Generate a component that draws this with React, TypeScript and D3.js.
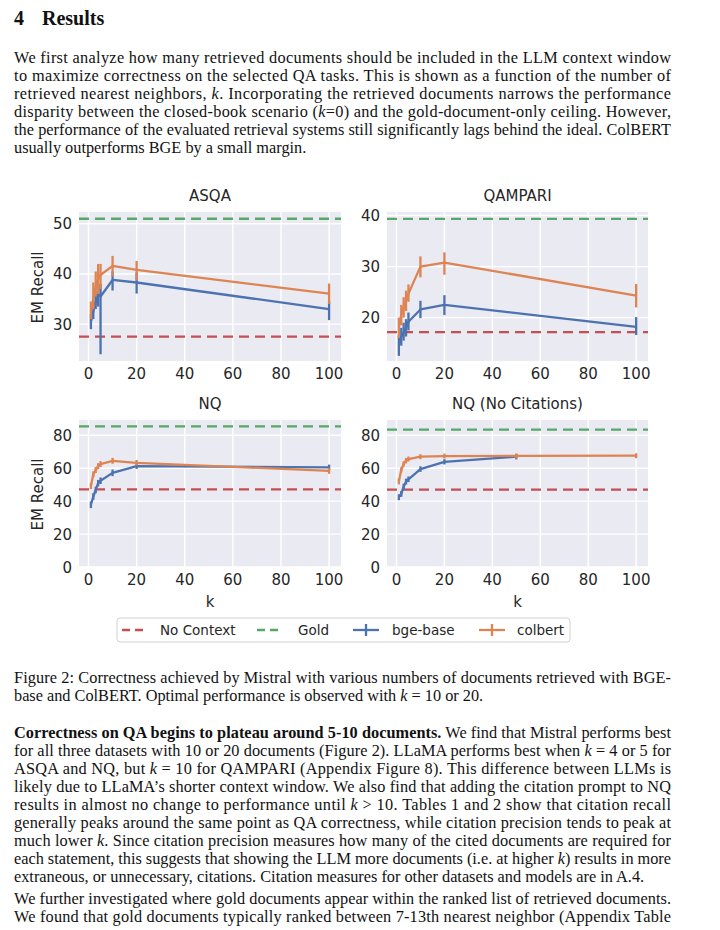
import { useEffect, useRef } from 'react';
import * as d3 from 'd3';

// k values (number of retrieved docs)
const kMain = [1, 2, 3, 4, 5, 10, 20, 100];
const kNoCitBge = [1, 2, 3, 4, 5, 10, 20, 50];
const kNoCitColbert = [1, 2, 3, 4, 5, 10, 20, 50, 100];
const xTicks = [0, 20, 40, 60, 80, 100];

// ASQA
const asqaBge = [30.5, 32.5, 34.5, 36, 35.5, 38.8, 38.3, 33];
const asqaBgeLo = [29, 31, 33, 33.5, 24, 36.7, 36.1, 30.8];
const asqaBgeHi = [32, 34.5, 36.5, 38, 38, 40.5, 40.3, 34.5];
const asqaColbert = [32.5, 35, 37.5, 39, 39.8, 41.6, 40.8, 36.1];
const asqaColbertLo = [31, 33, 35.5, 36, 37, 39.5, 38.7, 34];
const asqaColbertHi = [34.5, 38.3, 40.5, 42, 42, 43.6, 42.6, 38.1];

// QAMPARI
const qampariBge = [14.5, 16.2, 17.2, 18, 19.2, 21.6, 22.5, 18.2];
const qampariBgeLo = [12.5, 14.5, 15.5, 16.3, 17.5, 19.9, 20.5, 16.6];
const qampariBgeHi = [16.5, 18, 19, 19.7, 21, 23.3, 24.4, 20.1];
const qampariColbert = [18, 20.5, 22, 23.3, 24.7, 30, 30.8, 24.3];
const qampariColbertLo = [16, 18.5, 20, 21.3, 23.1, 27.9, 28.4, 22];
const qampariColbertHi = [20, 22.5, 24, 25.3, 26.5, 32, 32.8, 26.6];

// NQ
const nqBge = [37.8, 42.8, 46.8, 50.9, 52.4, 57.2, 61.3, 60.5];
const nqBgeLo = [35.8, 40.8, 44.8, 48.9, 50.4, 55.2, 59.6, 58.8];
const nqBgeHi = [39.8, 44.8, 48.8, 52.9, 54.4, 59.2, 63, 62.2];
const nqColbert = [49.2, 56.3, 58.9, 61.3, 62.5, 64.5, 63.3, 58.4];
const nqColbertLo = [47.4, 54.5, 57.1, 59.5, 60.7, 62.7, 61.6, 56.6];
const nqColbertHi = [51, 58.1, 60.7, 63.1, 64.3, 66.3, 65, 60.2];

// NQ (No Citations)
const nqncBge = [42.4, 44.4, 48.8, 51.9, 53.3, 59.5, 63.9, 67];
const nqncBgeLo = [40.6, 42.6, 47, 50.1, 51.6, 57.8, 62.3, 65.4];
const nqncBgeHi = [44.2, 46.2, 50.6, 53.7, 55, 61.2, 65.5, 68.6];
const nqncColbert = [51.9, 59, 62.6, 64.6, 65.6, 67, 67.4, 67.5, 67.6];
const nqncColbertLo = [50.2, 57.4, 61, 63, 64.1, 65.5, 65.9, 66, 66.1];
const nqncColbertHi = [53.6, 60.6, 64.2, 66.2, 67.1, 68.5, 68.9, 69, 69.1];

// reference lines
const goldValues = [51.0, 39.35, 85.4, 83.5];
const noContextValues = [27.5, 17.15, 47.2, 47.0];

const titles = ['ASQA', 'QAMPARI', 'NQ', 'NQ (No Citations)'];
const yTickSets = [[30, 40, 50], [20, 30, 40], [0, 20, 40, 60, 80], [0, 20, 40, 60, 80]];
const yDomains: [number, number][] = [[22.65, 52.35], [11.5, 40.7], [0, 89.3], [0, 89.3]];
const legendLabels = ['No Context', 'Gold', 'bge-base', 'colbert'];

const C = { blue: '#4C72B0', orange: '#DD8452', green: '#55A868', red: '#C44E52' };

type Series = { k: number[]; y: number[]; lo: number[]; hi: number[] };
const panelSeries: { bge: Series; colbert: Series }[] = [
  { bge: { k: kMain, y: asqaBge, lo: asqaBgeLo, hi: asqaBgeHi }, colbert: { k: kMain, y: asqaColbert, lo: asqaColbertLo, hi: asqaColbertHi } },
  { bge: { k: kMain, y: qampariBge, lo: qampariBgeLo, hi: qampariBgeHi }, colbert: { k: kMain, y: qampariColbert, lo: qampariColbertLo, hi: qampariColbertHi } },
  { bge: { k: kMain, y: nqBge, lo: nqBgeLo, hi: nqBgeHi }, colbert: { k: kMain, y: nqColbert, lo: nqColbertLo, hi: nqColbertHi } },
  { bge: { k: kNoCitBge, y: nqncBge, lo: nqncBgeLo, hi: nqncBgeHi }, colbert: { k: kNoCitColbert, y: nqncColbert, lo: nqncColbertLo, hi: nqncColbertHi } },
];

// panel frames (layout)
const frames = [
  { x0: 79, x1: 341, y0: 212, y1: 361, ylabel: true, xlabel: false },
  { x0: 387, x1: 648, y0: 212, y1: 361, ylabel: false, xlabel: false },
  { x0: 79, x1: 341, y0: 420, y1: 567, ylabel: true, xlabel: true },
  { x0: 387, x1: 648, y0: 420, y1: 567, ylabel: false, xlabel: true },
];

type Seg = { t: string; i?: boolean; b?: boolean };
const para1: Seg[][] = [
  [{ t: 'We first analyze how many retrieved documents should be included in the LLM context window' }],
  [{ t: 'to maximize correctness on the selected QA tasks. This is shown as a function of the number of' }],
  [{ t: 'retrieved nearest neighbors, ' }, { t: 'k', i: true }, { t: '. Incorporating the retrieved documents narrows the performance' }],
  [{ t: 'disparity between the closed-book scenario (' }, { t: 'k', i: true }, { t: '=0) and the gold-document-only ceiling. However,' }],
  [{ t: 'the performance of the evaluated retrieval systems still significantly lags behind the ideal. ColBERT' }],
  [{ t: 'usually outperforms BGE by a small margin.' }],
];
const caption: Seg[][] = [
  [{ t: 'Figure 2: Correctness achieved by Mistral with various numbers of documents retrieved with BGE-' }],
  [{ t: 'base and ColBERT. Optimal performance is observed with ' }, { t: 'k', i: true }, { t: ' = 10 or 20.' }],
];
const para2: Seg[][] = [
  [{ t: 'Correctness on QA begins to plateau around 5-10 documents.', b: true }, { t: ' We find that Mistral performs best' }],
  [{ t: 'for all three datasets with 10 or 20 documents (Figure 2). LLaMA performs best when ' }, { t: 'k', i: true }, { t: ' = 4 or 5 for' }],
  [{ t: 'ASQA and NQ, but ' }, { t: 'k', i: true }, { t: ' = 10 for QAMPARI (Appendix Figure 8). This difference between LLMs is' }],
  [{ t: 'likely due to LLaMA\u2019s shorter context window. We also find that adding the citation prompt to NQ' }],
  [{ t: 'results in almost no change to performance until ' }, { t: 'k', i: true }, { t: ' > 10. Tables 1 and 2 show that citation recall' }],
  [{ t: 'generally peaks around the same point as QA correctness, while citation precision tends to peak at' }],
  [{ t: 'much lower ' }, { t: 'k', i: true }, { t: '. Since citation precision measures how many of the cited documents are required for' }],
  [{ t: 'each statement, this suggests that showing the LLM more documents (i.e. at higher ' }, { t: 'k', i: true }, { t: ') results in more' }],
  [{ t: 'extraneous, or unnecessary, citations. Citation measures for other datasets and models are in A.4.' }],
];
const para3: Seg[][] = [
  [{ t: 'We further investigated where gold documents appear within the ranked list of retrieved documents.' }],
  [{ t: 'We found that gold documents typically ranked between 7-13th nearest neighbor (Appendix Table' }],
];

const TEXT_LEFT = 14;
const TEXT_WIDTH = 657;
const LINE_H = 18;

function Para({ lines, y0, lastJustified = false }: { lines: Seg[][]; y0: number; lastJustified?: boolean }) {
  return (
    <g fontFamily="'Liberation Serif', serif" fontSize={16.3} fill="#111">
      {lines.map((segs, li) => {
        const justify = lastJustified || li < lines.length - 1;
        return (
          <text
            key={li}
            x={TEXT_LEFT}
            y={y0 + li * LINE_H}
            textLength={justify ? TEXT_WIDTH : undefined}
            lengthAdjust={justify ? 'spacing' : undefined}
          >
            {segs.map((s, si) => (
              <tspan key={si} fontStyle={s.i ? 'italic' : undefined} fontWeight={s.b ? 'bold' : undefined}>
                {s.t}
              </tspan>
            ))}
          </text>
        );
      })}
    </g>
  );
}

function Chart() {
  const ref = useRef<SVGGElement>(null);

  useEffect(() => {
    const root = d3.select(ref.current);
    root.selectAll('*').remove();
    const font = "'DejaVu Sans', sans-serif";
    const txt = '#262626';

    frames.forEach((f, i) => {
      const x = d3.scaleLinear().domain([-3.95, 104.95]).range([f.x0, f.x1]);
      const y = d3.scaleLinear().domain(yDomains[i]).range([f.y1, f.y0]);
      const g = root.append('g');

      g.append('rect')
        .attr('x', f.x0).attr('y', f.y0)
        .attr('width', f.x1 - f.x0).attr('height', f.y1 - f.y0)
        .attr('fill', '#EAEAF2');

      // grid
      g.selectAll('.gx').data(xTicks).enter().append('line')
        .attr('x1', d => x(d)).attr('x2', d => x(d))
        .attr('y1', f.y0).attr('y2', f.y1)
        .attr('stroke', '#fff').attr('stroke-width', 1.4);
      g.selectAll('.gy').data(yTickSets[i]).enter().append('line')
        .attr('x1', f.x0).attr('x2', f.x1)
        .attr('y1', d => y(d)).attr('y2', d => y(d))
        .attr('stroke', '#fff').attr('stroke-width', 1.4);

      // tick labels
      g.selectAll('.tx').data(xTicks).enter().append('text')
        .attr('x', d => x(d)).attr('y', f.y1 + 17.5)
        .attr('text-anchor', 'middle')
        .attr('font-family', font).attr('font-size', 15).attr('fill', txt)
        .text(d => d);
      g.selectAll('.ty').data(yTickSets[i]).enter().append('text')
        .attr('x', f.x0 - 7).attr('y', d => y(d) + 5.5)
        .attr('text-anchor', 'end')
        .attr('font-family', font).attr('font-size', 15).attr('fill', txt)
        .text(d => d);

      // title
      g.append('text')
        .attr('x', (f.x0 + f.x1) / 2).attr('y', f.y0 - 11.5)
        .attr('text-anchor', 'middle')
        .attr('font-family', font).attr('font-size', 15).attr('fill', txt)
        .text(titles[i]);

      if (f.ylabel) {
        const cy = (f.y0 + f.y1) / 2 + 1;
        g.append('text')
          .attr('transform', `translate(43,${cy}) rotate(-90)`)
          .attr('text-anchor', 'middle')
          .attr('font-family', font).attr('font-size', 15).attr('fill', txt)
          .text('EM Recall');
      }
      if (f.xlabel) {
        g.append('text')
          .attr('x', (f.x0 + f.x1) / 2).attr('y', f.y1 + 40)
          .attr('text-anchor', 'middle')
          .attr('font-family', font).attr('font-size', 15).attr('fill', txt)
          .text('k');
      }

      // reference lines
      const hline = (v: number, color: string) =>
        g.append('line')
          .attr('x1', f.x0).attr('x2', f.x1)
          .attr('y1', y(v)).attr('y2', y(v))
          .attr('stroke', color).attr('stroke-width', 2.3)
          .attr('stroke-dasharray', '10,6');
      hline(noContextValues[i], C.red);
      hline(goldValues[i], C.green);

      // series: line through means + vertical error bars
      const drawSeries = (s: Series, color: string) => {
        const pts = s.k.map((k, j) => [k, s.y[j]] as [number, number]);
        const path = d3.line<[number, number]>().x(d => x(d[0])).y(d => y(d[1]));
        g.append('path')
          .attr('d', path(pts))
          .attr('fill', 'none').attr('stroke', color)
          .attr('stroke-width', 2.3).attr('stroke-linejoin', 'round');
        g.selectAll(null).data(s.k).enter().append('line')
          .attr('x1', d => x(d)).attr('x2', d => x(d))
          .attr('y1', (_, j) => y(s.lo[j])).attr('y2', (_, j) => y(s.hi[j]))
          .attr('stroke', color).attr('stroke-width', 2.3);
      };
      drawSeries(panelSeries[i].bge, C.blue);
      drawSeries(panelSeries[i].colbert, C.orange);
    });

    // legend
    const lg = root.append('g');
    lg.append('rect')
      .attr('x', 117).attr('y', 618).attr('width', 453).attr('height', 24)
      .attr('rx', 3).attr('fill', '#fff').attr('fill-opacity', 0.8)
      .attr('stroke', '#d0d0d0').attr('stroke-width', 1);
    const items = [
      { x: 122, color: C.red, dash: true, tx: 160 },
      { x: 257, color: C.green, dash: true, tx: 298 },
      { x: 353, color: C.blue, dash: false, tx: 392 },
      { x: 479, color: C.orange, dash: false, tx: 517 },
    ];
    items.forEach((it, i) => {
      lg.append('line')
        .attr('x1', it.x).attr('x2', it.x + 26)
        .attr('y1', 630).attr('y2', 630)
        .attr('stroke', it.color).attr('stroke-width', 2.3)
        .attr('stroke-dasharray', it.dash ? '8,5' : null);
      if (!it.dash) {
        lg.append('line')
          .attr('x1', it.x + 13).attr('x2', it.x + 13)
          .attr('y1', 624).attr('y2', 636)
          .attr('stroke', it.color).attr('stroke-width', 2.3);
      }
      lg.append('text')
        .attr('x', it.tx).attr('y', 635)
        .attr('font-family', "'DejaVu Sans', sans-serif").attr('font-size', 13.5)
        .attr('fill', '#262626')
        .text(legendLabels[i]);
    });
  }, []);

  return <g ref={ref} />;
}

export default function App() {
  return (
    <div style={{ position: 'absolute', left: 0, top: 0, background: '#fff' }}>
      <svg width={720} height={930} style={{ display: 'block' }}>
        <rect width={720} height={930} fill="#fff" />
        <text x={14} y={25} fontFamily="'Liberation Serif', serif" fontWeight="bold" fontSize={20} fill="#111">4</text>
        <text x={42} y={25} fontFamily="'Liberation Serif', serif" fontWeight="bold" fontSize={20} fill="#111">Results</text>
        <Para lines={para1} y0={62.5} />
        <Chart />
        <Para lines={caption} y0={682.5} />
        <Para lines={para2} y0={737.5} />
        <Para lines={para3} y0={903.5} lastJustified />
      </svg>
    </div>
  );
}
